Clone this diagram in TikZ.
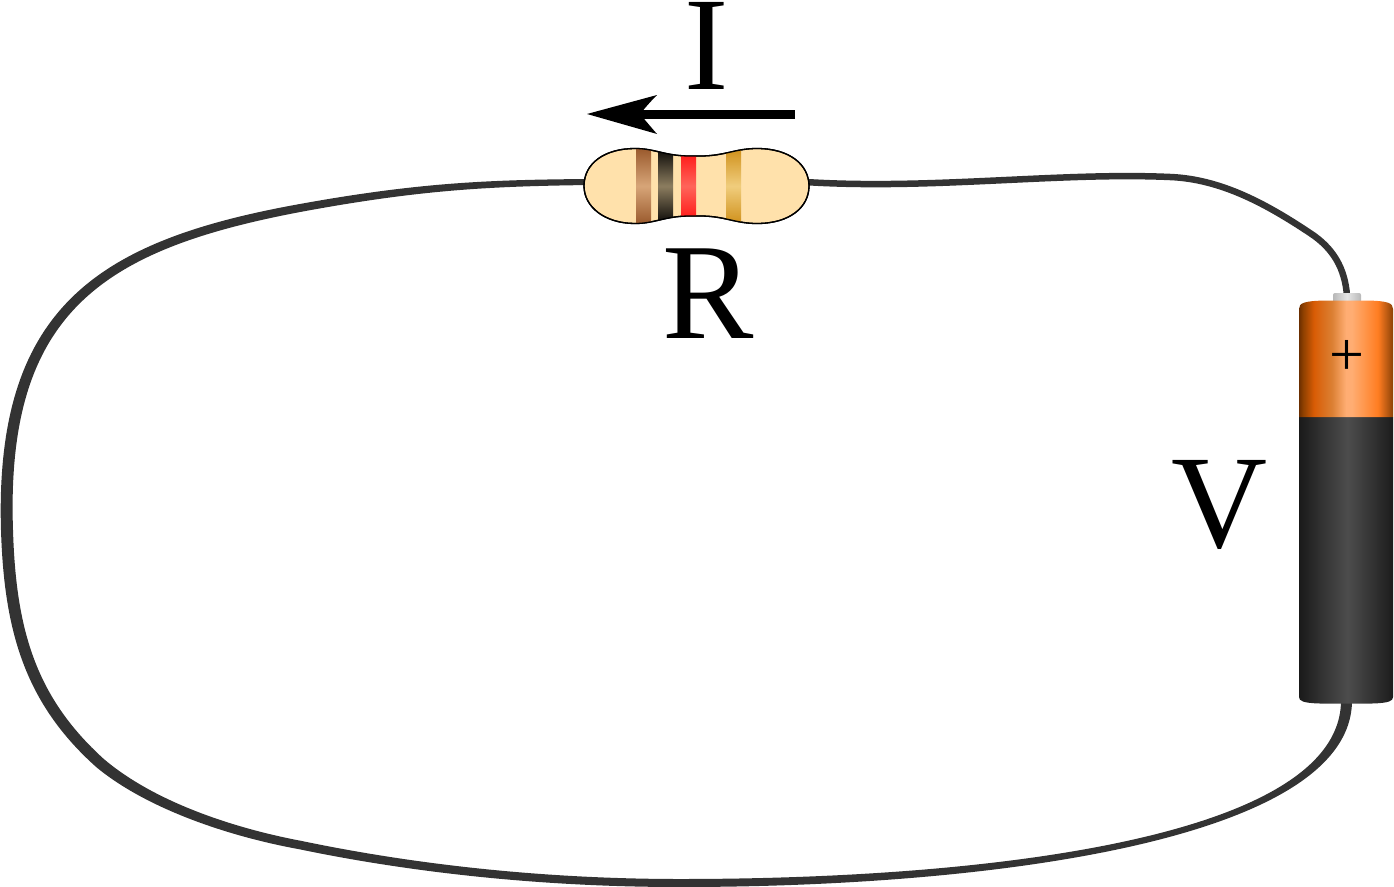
\documentclass[tikz,border=0pt]{standalone}
\usepackage{fontspec}
\setmainfont{Liberation Serif}
\definecolor{wirecol}{HTML}{333333}
\definecolor{bodycol}{HTML}{FFE1AB}
\pgfdeclarehorizontalshading{orangeshade}{100bp}{
 rgb(0bp)=(0.42,0.18,0);rgb(25bp)=(0.42,0.18,0);rgb(27bp)=(0.55,0.25,0);rgb(33bp)=(0.85,0.36,0.02);rgb(42.5bp)=(0.86,0.50,0.2);rgb(50bp)=(1,0.68,0.45);rgb(53bp)=(1,0.68,0.45);rgb(67bp)=(1,0.49,0.13);rgb(75bp)=(0.55,0.26,0.03);rgb(100bp)=(0.55,0.26,0.03)}
\pgfdeclarehorizontalshading{darkshade}{100bp}{
 rgb(0bp)=(0.1,0.1,0.1);rgb(25bp)=(0.1,0.1,0.1);rgb(36bp)=(0.19,0.19,0.19);rgb(51bp)=(0.30,0.30,0.30);rgb(65bp)=(0.19,0.19,0.19);rgb(75bp)=(0.11,0.11,0.11);rgb(100bp)=(0.11,0.11,0.11)}
\pgfdeclarehorizontalshading{capshade}{100bp}{
 rgb(0bp)=(0.72,0.72,0.72);rgb(25bp)=(0.72,0.72,0.72);rgb(50bp)=(0.90,0.90,0.90);rgb(75bp)=(0.72,0.72,0.72);rgb(100bp)=(0.72,0.72,0.72)}
\tikzset{
 wirefill/.style={fill=wirecol,draw=none},
 wireline/.style={draw=wirecol,line width=6.5pt},
 bigtext/.style={font=\fontsize{137}{140}\selectfont,inner sep=0pt,anchor=base},
 toptext/.style={font=\fontsize{133}{136}\selectfont,inner sep=0pt,anchor=base},
 plustext/.style={font=\fontsize{62}{66}\selectfont,inner sep=0pt,anchor=center},
 resbody/.style={fill=bodycol,draw=black,line width=1.3pt},
 arrowline/.style={draw=black,line width=9pt},
 arrowhead/.style={fill=black,draw=none},
}
\newcommand{\respathdef}{(584,186) .. controls (584,163) and (605,148.5) .. (635,148.5)
 .. controls (655,148.5) and (665,156) .. (690,156) -- (700,156)
 .. controls (725,156) and (735,148.5) .. (757,148.5)
 .. controls (790,148.5) and (809,165) .. (809,186)
 .. controls (809,207) and (790,223.5) .. (757,223.5)
 .. controls (735,223.5) and (725,216) .. (700,216) -- (690,216)
 .. controls (665,216) and (655,223.5) .. (635,223.5)
 .. controls (605,223.5) and (584,207) .. (584,186) -- cycle}
\begin{document}
\begin{tikzpicture}[x=1pt,y=-1pt]
\useasboundingbox (0,0) rectangle (1394,886);
% connection points
\coordinate (resE) at (805,182);
\coordinate (batP) at (1347,296);
\coordinate (arrowTail) at (795,114);
\coordinate (arrowNeck) at (632,114);
\coordinate (arrowTip) at (587,114);
% long wire with varying width
\path[wirefill] (590,179)
 .. controls (490,179.7) and (419,182.4) .. (299.3,204.1)
 .. controls (98.2,240.4) and (-5.6,307.1) .. (1,530.2)
 .. controls (4.1,630.9) and (24.7,703.2) .. (96.4,767.2)
 .. controls (147,809) and (228.9,836.4) .. (299.1,849.2)
 .. controls (419.4,874.2) and (550,887) .. (680,887)
 .. controls (1000,887) and (1352.5,838) .. (1352,700)
 -- (1341,700)
 .. controls (1341.5,835) and (1000,879) .. (680,879)
 .. controls (550,879) and (420.6,865.8) .. (300.9,840.8)
 .. controls (231.1,827.6) and (153,801) .. (103.6,758.8)
 .. controls (35.3,696.8) and (15.9,629.1) .. (13,529.8)
 .. controls (5.6,312.9) and (101.8,249.6) .. (300.7,211.9)
 .. controls (421,189.6) and (490,186.3) .. (590,185) -- cycle;
% right wire
\draw[wireline] (resE) .. controls (930,190) and (1060,172) .. (1170,177)
 .. controls (1220,179) and (1265,203) .. (1310,233)
 .. controls (1333,248) and (1345,268) .. (batP);
% resistor
\path[resbody] \respathdef;
\begin{scope}
 \clip \respathdef;
 \shade[top color={rgb,255:red,150;green,85;blue,40},bottom color={rgb,255:red,150;green,85;blue,40},middle color={rgb,255:red,215;green,165;blue,120}] (636,146) rectangle (651,226);
 \shade[top color=black,bottom color=black,middle color={rgb,255:red,140;green,125;blue,95}] (658,146) rectangle (673,226);
 \shade[top color={rgb,255:red,255;green,10;blue,10},bottom color={rgb,255:red,255;green,10;blue,10},middle color={rgb,255:red,255;green,100;blue,90}] (681,146) rectangle (696,226);
 \shade[top color={rgb,255:red,205;green,140;blue,20},bottom color={rgb,255:red,205;green,140;blue,20},middle color={rgb,255:red,240;green,205;blue,125}] (726,146) rectangle (741,226);
\end{scope}
\path[draw=black,line width=1.3pt] \respathdef;
% battery
\shade[shading=capshade] (1333,301) -- (1333,295) arc[start angle=180,end angle=270,radius=2] -- (1359,293) arc[start angle=270,end angle=360,radius=2] -- (1361,301) -- cycle;
\shade[shading=darkshade] (1299,417) -- (1299,697) .. controls (1299,701) and (1303,703) .. (1320,703.5) -- (1372,703.5) .. controls (1389,703) and (1393,701) .. (1393,697) -- (1393,417) -- cycle;
\shade[shading=orangeshade] (1299,417) -- (1299,309) .. controls (1299,303) and (1304,301) .. (1325,300.5) -- (1367,300.5) .. controls (1388,301) and (1393,303) .. (1393,309) -- (1393,417) -- cycle;
\node[plustext] (plus) at (1347,358) {+};
% labels
\node[toptext] (labelI) at (706.5,89) {I};
\node[bigtext] (labelR) at (708,338) {R};
\node[toptext] (labelV) at (1220,547) {V};
% current arrow
\draw[arrowline] (arrowTail) -- (arrowNeck);
\path[arrowhead] (arrowTip) -- (657,95)
 .. controls (650,102) and (645,108) .. (640,114)
 .. controls (645,120) and (650,126) .. (657,134) -- cycle;
\end{tikzpicture}
\end{document}
